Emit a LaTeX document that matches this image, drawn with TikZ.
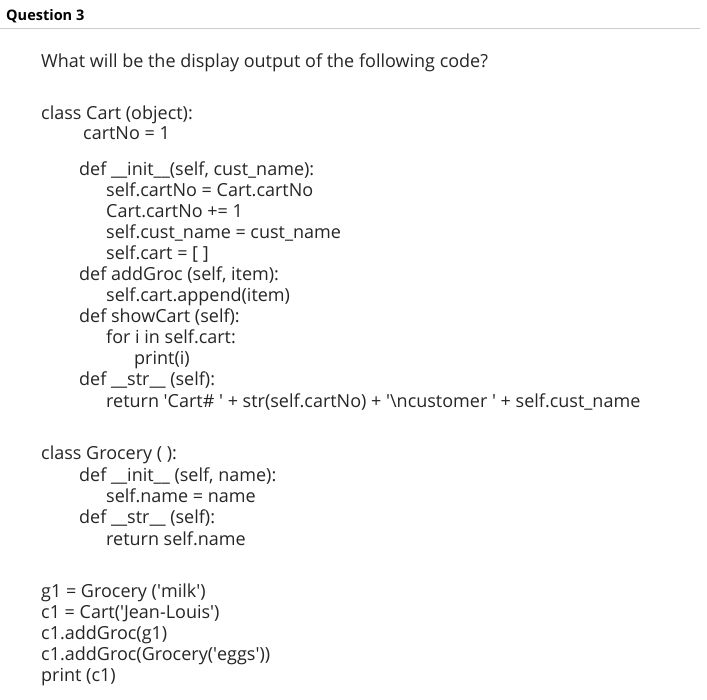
\documentclass[tikz,border=0pt]{standalone}
\usepackage{fontspec}
\setmainfont{Open Sans}
\newcommand\sq{\textquotesingle}
\begin{document}
\begin{tikzpicture}[x=1pt,y=-1pt,
  code/.style={anchor=base west,inner sep=0pt,font=\fontsize{18}{20}\selectfont,text=black!85}]
\useasboundingbox[fill=white] (0,0) rectangle (707,700);
\node[anchor=base west,inner sep=0pt,font=\fontsize{14.5}{16}\selectfont\bfseries] (q) at (6,21) {Question 3};
\draw[black!20] (0,28) -- (700,28);
\node[code] (l0) at (41,68) {What will be the display output of the following code?};
\foreach \x/\y/\t [count=\i] in {
 41/120/{class Cart (object):},
 83/140/{cartNo = 1},
 79/176/{def \_\_init\_\_(self, cust\_name):},
 106/197/{self.cartNo = Cart.cartNo},
 106/218/{Cart.cartNo += 1},
 106/239/{self.cust\_name = cust\_name},
 106/260/{self.cart = [ ]},
 79/281/{def addGroc (self, item):},
 106/302/{self.cart.append(item)},
 79/323/{def showCart (self):},
 106/344/{for i in self.cart:},
 134/365/{print(i)},
 79/386/{def \_\_str\_\_ (self):},
 106/408/{return \sq Cart\# \sq\ + str(self.cartNo) + \sq\textbackslash ncustomer \sq\ + self.cust\_name},
 41/460/{class Grocery ( ):},
 79/481/{def \_\_init\_\_ (self, name):},
 106/502/{self.name = name},
 79/523/{def \_\_str\_\_ (self):},
 106/545/{return self.name},
 41/597/{g1 = Grocery (\sq milk\sq)},
 41/618/{c1 = Cart(\sq Jean-Louis\sq)},
 41/639/{c1.addGroc(g1)},
 41/660/{c1.addGroc(Grocery(\sq eggs\sq))},
 41/681/{print (c1)}}
 \node[code] (c\i) at (\x,\y) {\t};
\end{tikzpicture}
\end{document}
